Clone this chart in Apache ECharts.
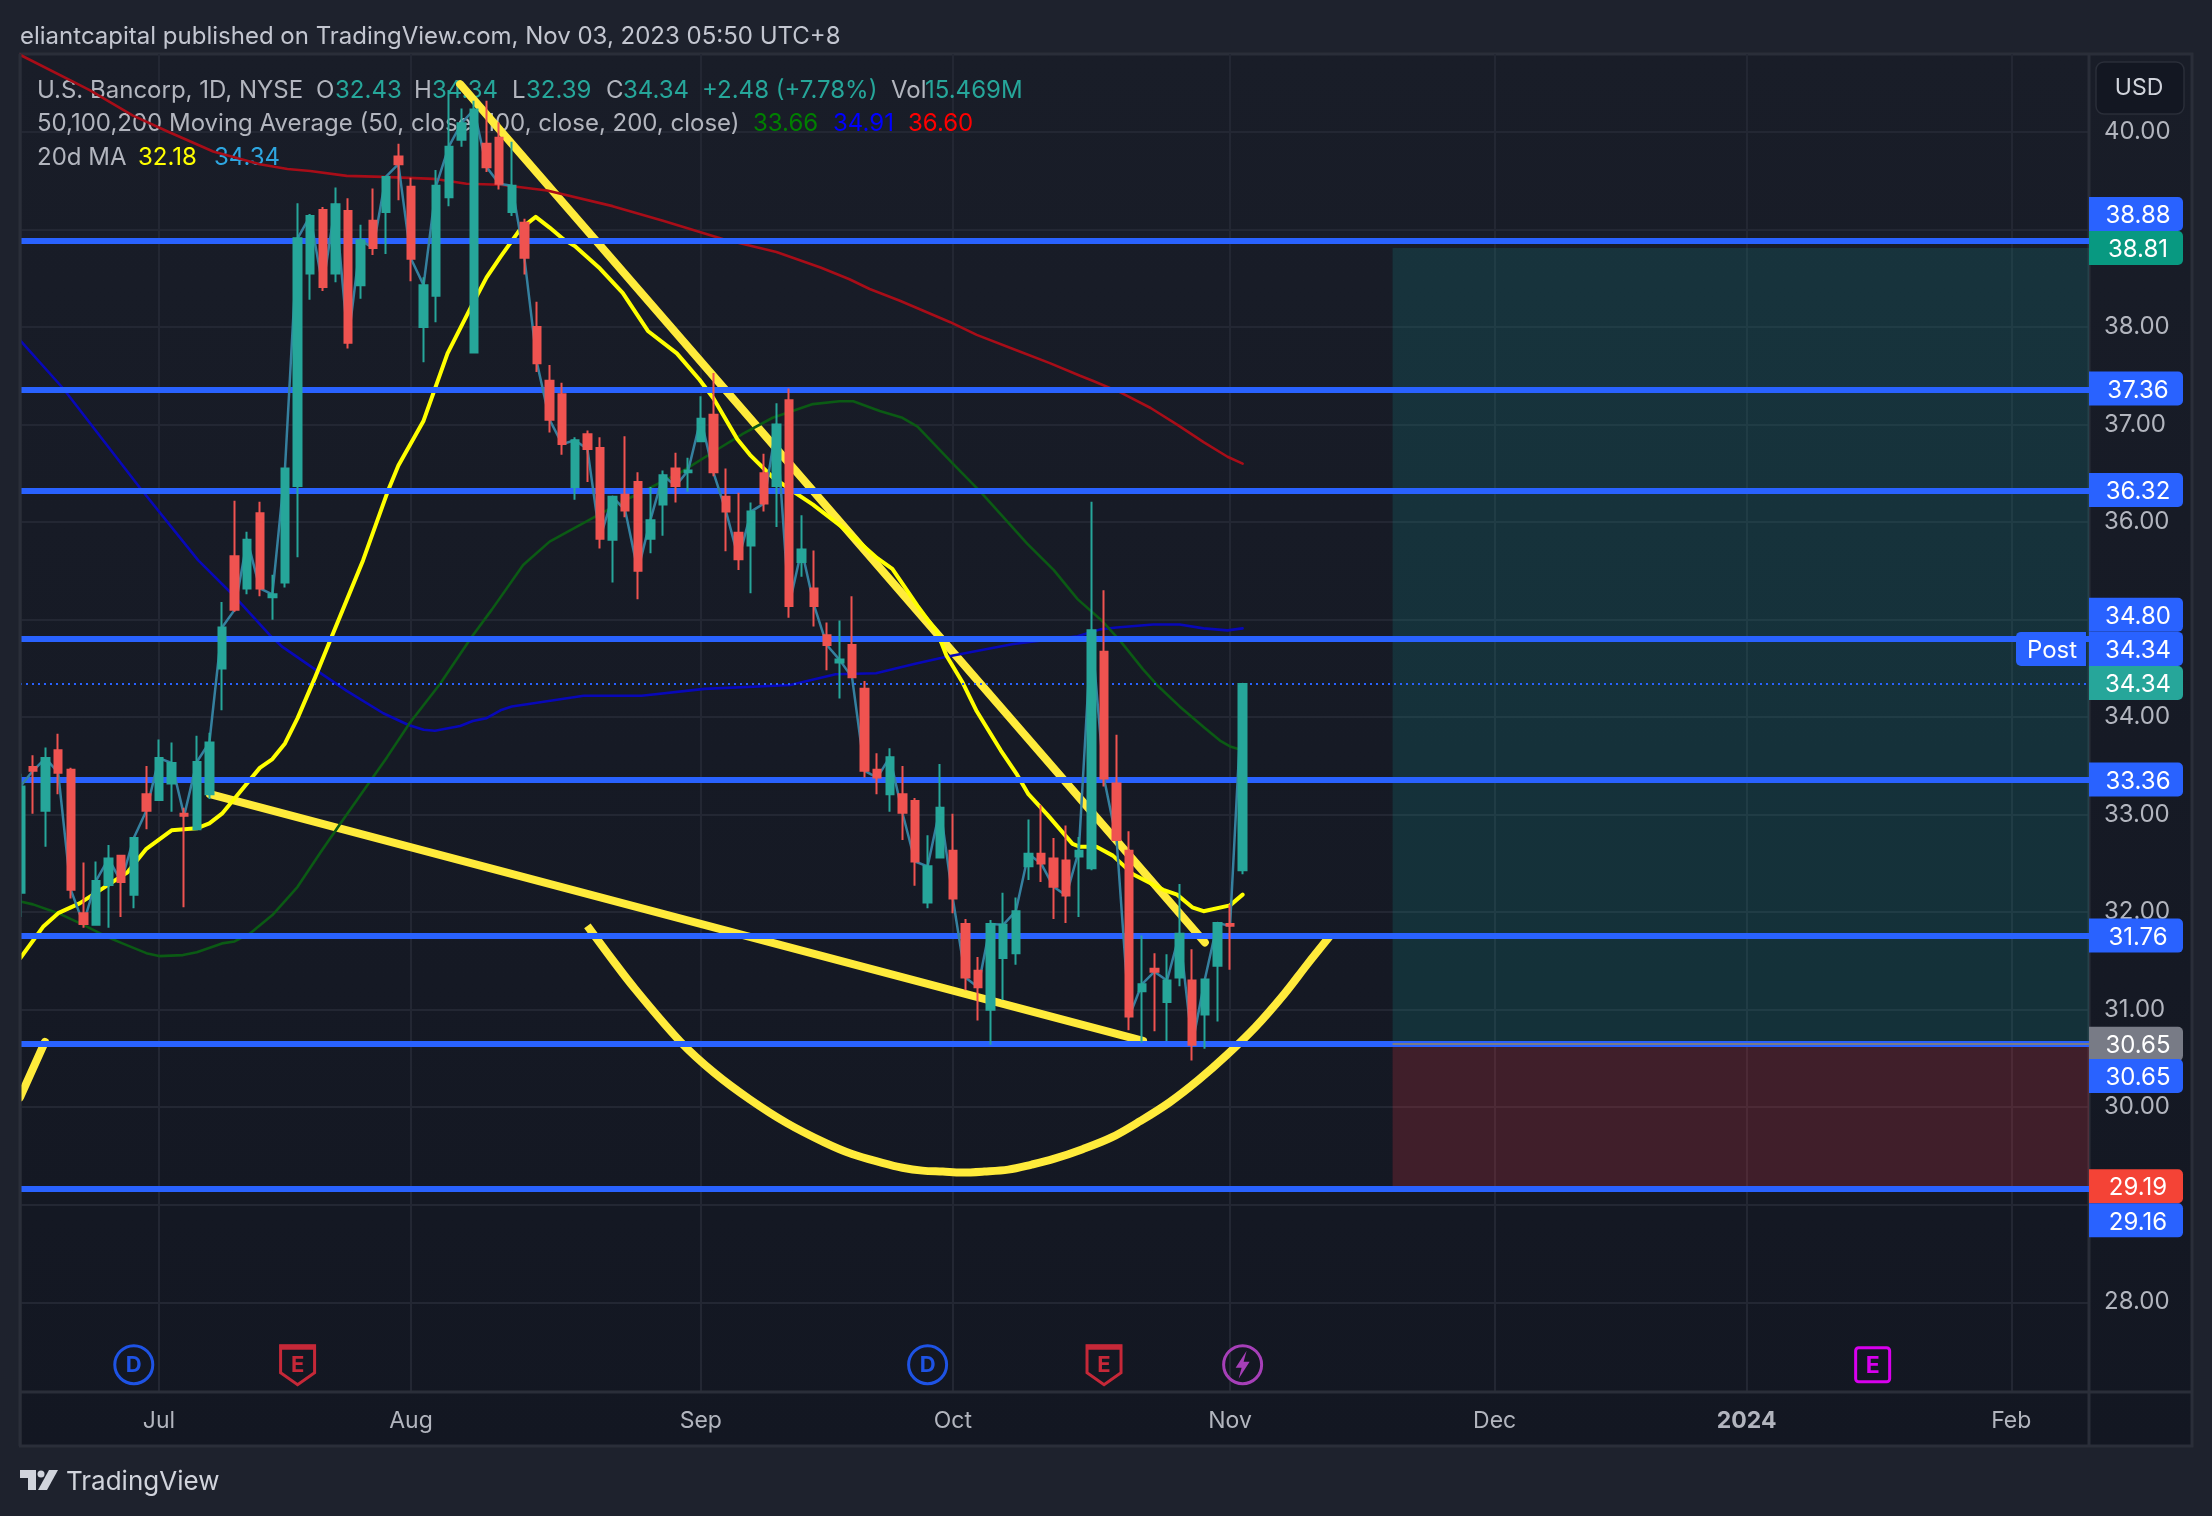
<!DOCTYPE html>
<html>
<head>
<meta charset="utf-8">
<title>USB 1D</title>
<style>html,body{margin:0;padding:0;background:#1e222d}#chart{width:2212px;height:1516px}</style>
<script src="https://cdn.jsdelivr.net/npm/echarts@6/dist/echarts.min.js"></script>
</head>
<body>
<div id="chart"></div>
<script>
// bar 0 = Jul 3 2023, bars are trading days, first visible bar is -11
var firstBar = -11;
var opens = [32.20,33.49,33.04,33.66,33.46,31.99,31.87,32.28,32.58,32.18,33.21,33.15,33.32,33.01,32.85,33.21,34.50,35.65,35.32,36.09,35.23,35.38,36.37,38.55,39.20,38.55,39.19,38.43,39.09,39.18,39.75,39.44,38.00,38.32,39.33,39.92,37.74,39.88,39.94,39.18,39.07,38.00,37.45,37.31,36.36,36.90,36.76,35.82,36.28,36.41,35.83,36.18,36.55,36.51,36.83,37.10,36.26,35.89,35.76,36.50,36.37,37.25,35.59,35.32,34.84,34.56,34.74,34.29,33.46,33.21,33.21,33.14,32.10,32.56,32.63,31.88,31.40,31.00,31.53,31.58,32.47,32.60,32.55,32.53,32.57,32.45,34.67,33.32,32.63,31.19,31.42,31.08,31.33,31.30,30.95,31.45,31.88,32.43];
var closes = [33.29,33.45,33.58,33.43,32.23,31.88,32.32,32.55,32.31,32.76,33.04,33.58,33.53,32.99,33.54,33.74,34.92,35.10,35.82,35.32,35.26,36.55,38.91,39.14,38.41,39.26,37.84,38.89,38.81,39.54,39.67,38.70,38.43,39.45,39.85,40.09,40.23,39.64,39.47,39.45,38.71,37.63,37.05,36.80,36.84,36.75,35.83,36.26,36.12,35.50,36.02,36.48,36.37,36.53,37.06,36.51,36.11,35.62,36.11,36.19,37.00,35.14,35.72,35.14,34.74,34.59,34.41,33.45,33.38,33.59,33.02,32.52,32.47,33.07,32.14,31.33,31.23,31.88,31.87,32.01,32.60,32.50,32.26,32.17,32.63,34.89,33.37,32.74,30.93,31.26,31.39,31.30,31.78,30.64,31.31,31.89,31.86,34.34];
var lows = [31.95,33.01,32.67,33.21,32.14,31.84,31.87,31.84,31.95,32.04,32.85,33.14,33.03,32.05,32.84,33.16,34.07,35.08,35.26,35.24,35.00,35.33,35.64,38.28,38.37,38.46,37.78,38.29,38.74,38.75,39.30,38.47,37.64,38.05,39.24,39.85,37.74,39.59,39.41,39.14,38.54,37.54,36.92,36.69,36.23,36.41,35.73,35.38,36.05,35.21,35.68,35.86,36.20,36.31,36.82,36.47,35.70,35.51,35.27,36.11,35.95,35.02,35.44,34.93,34.48,34.19,34.41,33.38,33.21,33.03,32.74,32.27,32.04,32.55,31.99,31.20,30.89,30.64,31.10,31.46,32.33,32.31,31.93,31.89,31.95,32.43,33.29,32.74,30.79,30.66,30.78,30.68,31.24,30.48,30.60,30.88,31.41,32.39];
var highs = [33.42,33.61,33.69,33.83,33.48,32.51,32.52,32.69,32.58,32.76,33.50,33.77,33.74,33.07,33.81,33.84,35.18,36.22,35.90,36.21,35.46,36.55,39.27,39.16,39.23,39.43,39.32,39.05,39.42,39.54,39.88,39.53,38.51,39.61,40.43,40.24,40.32,40.32,40.10,39.90,39.11,38.26,37.61,37.43,36.87,36.94,36.87,36.26,36.88,36.51,36.36,36.53,36.71,36.66,37.29,37.53,36.55,36.30,36.20,36.70,37.22,37.37,36.07,35.71,34.97,34.99,35.24,34.37,33.63,33.68,33.50,33.17,32.79,33.52,33.01,31.93,31.54,31.92,32.20,32.15,32.95,33.10,32.76,32.89,32.77,36.21,35.30,33.82,32.83,31.76,31.58,31.57,32.29,31.62,31.31,31.90,32.08,34.34];

// moving averages as [bar, price]
var ma200 = [[-11,40.79],[-5.5,40.43],[-2.1,40.17],[0.6,40.01],[4.3,39.80],[8,39.67],[10.2,39.62],[12,39.60],[14.9,39.55],[17.8,39.54],[21.8,39.52],[24.4,39.47],[27.1,39.46],[30.8,39.40],[36,39.24],[40,39.09],[44.8,38.90],[49,38.77],[52.5,38.61],[54.8,38.49],[56.4,38.39],[58.8,38.27],[62.8,38.05],[64.9,37.92],[68.1,37.76],[70.7,37.63],[73.1,37.50],[74.1,37.45],[76.3,37.33],[78.7,37.17],[80.8,37.00],[82.9,36.82],[84.8,36.67],[86,36.60]];
var ma100 = [[-11,37.86],[-7.6,37.37],[-1.5,36.35],[3.1,35.61],[5.9,35.25],[8.8,34.84],[9.8,34.72],[12.5,34.48],[14.9,34.27],[17.8,34.04],[19.8,33.92],[21,33.87],[21.9,33.86],[23.9,33.91],[24.9,33.96],[26,33.99],[27.1,34.07],[28,34.11],[29.6,34.14],[33.7,34.22],[38.3,34.22],[43.3,34.29],[50.1,34.33],[53.7,34.44],[56.9,34.45],[60.1,34.55],[62.5,34.62],[67.8,34.75],[72.9,34.83],[74.7,34.90],[76,34.92],[78.9,34.95],[81,34.95],[82.9,34.91],[84.8,34.89],[86,34.91]];
var ma50 = [[-11,32.11],[-10,32.08],[-8,31.99],[-6,31.87],[-4,31.74],[-2.9,31.68],[-1,31.58],[0,31.55],[1.9,31.56],[3,31.59],[5,31.68],[6,31.70],[7.2,31.78],[9,31.97],[11,32.26],[12.8,32.61],[14.4,32.91],[16.8,33.35],[18.1,33.59],[19.9,33.94],[22.3,34.34],[24.8,34.82],[26.4,35.10],[28.9,35.56],[31,35.80],[34.4,36.04],[37.4,36.25],[41.4,36.51],[44.5,36.76],[46.4,36.91],[48.7,37.07],[51.9,37.21],[54,37.24],[55.1,37.24],[57.2,37.14],[59,37.07],[60.2,36.98],[63,36.60],[65.2,36.31],[68.9,35.78],[71,35.51],[72.9,35.21],[74.9,34.98],[76.3,34.78],[78.1,34.49],[79.2,34.33],[81,34.11],[82.9,33.90],[84.2,33.76],[85,33.70],[86,33.66]];
var ma20 = [[-11,31.53],[-9.2,31.85],[-8,31.99],[-6.3,32.09],[-4.4,32.25],[-2.5,32.41],[-1,32.65],[1,32.84],[3,32.86],[4,32.91],[5,33.01],[5.9,33.15],[8,33.48],[9,33.57],[10,33.73],[11,33.99],[12.4,34.41],[13.6,34.79],[14.9,35.20],[16.2,35.61],[18.2,36.33],[19,36.58],[21,37.04],[22.9,37.73],[24.7,38.19],[26,38.51],[27.1,38.72],[28.7,39.01],[29.9,39.13],[31,39.02],[32.1,38.90],[33,38.83],[35,38.60],[36.8,38.35],[38.8,37.96],[41.1,37.73],[42.9,37.46],[44,37.27],[45.9,36.85],[46.9,36.69],[48.7,36.46],[50.5,36.30],[51.9,36.18],[54.3,35.94],[57,35.63],[58.2,35.52],[59,35.37],[60.2,35.14],[61.8,34.86],[62.5,34.63],[63.8,34.35],[64.9,34.06],[66.8,33.66],[68.1,33.41],[69,33.21],[70.5,33.00],[72.5,32.70],[73.1,32.67],[74.4,32.67],[75.7,32.58],[77.3,32.39],[79.7,32.23],[80.8,32.18],[82,32.05],[82.9,32.01],[85,32.07],[86,32.18]];

// hand drawn lines
var wedgeTop = [[23.9,40.49],[83,31.69]];
var wedgeBottom = [[4.05,33.21],[78.1,30.68]];
var leftStub = [[-11.03,30.10],[-9.05,30.67]];
var cup = [[34,31.86],[36,31.51],[37.8,31.21],[41.4,30.67],[44.1,30.35],[46.9,30.08],[49.8,29.84],[52.8,29.64],[55,29.52],[57.4,29.43],[59,29.38],[60.6,29.35],[62.2,29.34],[63.7,29.33],[65.5,29.34],[67.4,29.36],[69.2,29.41],[71,29.47],[73.3,29.57],[75.6,29.69],[77.9,29.86],[80.2,30.05],[82.5,30.28],[84.7,30.53],[87,30.82],[89.3,31.16],[91.1,31.46],[92.9,31.75]];
var levels = [38.88,37.36,36.32,34.80,33.36,31.76,30.65,29.16];
var lastPrice = 34.34;
var positionStart = 97.9;
var targetPrice = 38.81, entryPrice = 30.65, stopPrice = 29.19;

var monthBars = [0,20,43,63,85,106,126,147];
var monthNames = ['Jul','Aug','Sep','Oct','Nov','Dec','2024','Feb'];
var gridPrices = [28,29,30,31,32,33,34,35,36,37,38,39,40];
var labelPrices = [28,30,31,32,33,34,36,37,38,40];

// price tags on the right; tagSlots is where the tag sits after TradingView pushes overlaps apart
var tagTexts = ['38.88','38.81','37.36','36.32','34.80','34.34','34.34','33.36','31.76','30.65','30.65','29.19','29.16'];
var tagSlots = [39.16,38.81,37.37,36.33,35.05,34.70,34.35,33.36,31.76,30.65,30.32,29.19,28.84];
var tagKinds = ['line','target','line','line','line','line','last','line','line','entry','line','stop','line'];
var tagColors = {line:'#2962ff',target:'#089981',last:'#26a69a',entry:'#787b86',stop:'#f44336'};

var eventBars = [-2,11,61,75,86,136];
var eventKinds = ['D','E','D','E','F','N'];
var eventPrice = 27.36;

var xMin = -11.03, xMax = 153.17;
var uiFont = 'Inter, "Liberation Sans", sans-serif';
var textGrey = '#b2b5be', teal = '#26a69a';

var candles = opens.map(function (o, i) {
  return [i + firstBar, o, closes[i], lows[i], highs[i]];
});
var closeLine = closes.map(function (c, i) { return [i + firstBar, c]; });

function overlayLine(name, data, color, width, z, extra) {
  return Object.assign({
    name: name, type: 'line', data: data, symbol: 'none', z: z, silent: true, animation: false,
    lineStyle: { color: color, width: width, cap: 'round', join: 'round' }
  }, extra || {});
}

function renderTag(params, api) {
  var cs = params.coordSys;
  var y = api.coord([0, api.value(0)])[1];
  var x = cs.x + cs.width;
  var kind = tagKinds[params.dataIndex];
  var kids = [
    { type: 'rect', shape: { x: x, y: y - 17, width: 94, height: 34, r: [0, 5, 5, 0] }, style: { fill: tagColors[kind] } },
    { type: 'text', style: { text: tagTexts[params.dataIndex], x: x + 49, y: y + 2, fill: '#fff', font: '24px ' + uiFont, align: 'center', verticalAlign: 'middle' } }
  ];
  if (params.dataIndex === 5) {
    kids.push({ type: 'rect', shape: { x: x - 73, y: y - 17, width: 70, height: 34, r: [5, 0, 0, 5] }, style: { fill: '#2962ff' } });
    kids.push({ type: 'text', style: { text: 'Post', x: x - 37, y: y + 2, fill: '#fff', font: '24px ' + uiFont, align: 'center', verticalAlign: 'middle' } });
  }
  return { type: 'group', children: kids };
}

function renderEvent(params, api) {
  var p = api.coord([api.value(0), eventPrice]);
  var x = p[0], y = p[1];
  var kind = eventKinds[params.dataIndex];
  var label = function (t, color, size) {
    return { type: 'text', style: { text: t, x: x, y: y + 1, fill: color, font: 'bold ' + size + 'px ' + uiFont, align: 'center', verticalAlign: 'middle' } };
  };
  if (kind === 'D') {
    return { type: 'group', children: [
      { type: 'circle', shape: { cx: x, cy: y, r: 19 }, style: { fill: 'none', stroke: '#1e53e5', lineWidth: 3 } },
      label('D', '#1e53e5', 22)
    ] };
  }
  if (kind === 'E') {
    return { type: 'group', children: [
      { type: 'polygon', shape: { points: [[x - 17, y - 19], [x + 17, y - 19], [x + 17, y + 8], [x, y + 20], [x - 17, y + 8]] }, style: { fill: 'none', stroke: '#c62838', lineWidth: 3 } },
      { type: 'rect', shape: { x: x - 18, y: y - 20, width: 36, height: 5 }, style: { fill: '#c62838' } },
      label('E', '#c62838', 22)
    ] };
  }
  if (kind === 'N') {
    return { type: 'group', children: [
      { type: 'rect', shape: { x: x - 17, y: y - 17, width: 34, height: 34, r: 3 }, style: { fill: 'none', stroke: '#d900ee', lineWidth: 3 } },
      label('E', '#d900ee', 23)
    ] };
  }
  return { type: 'group', children: [
    { type: 'circle', shape: { cx: x, cy: y, r: 19 }, style: { fill: 'none', stroke: '#a63fb8', lineWidth: 3 } },
    { type: 'polygon', shape: { points: [[x + 4, y - 14], [x - 7, y + 3], [x - 1, y + 3], [x - 4, y + 14], [x + 7, y - 3], [x + 1, y - 3]] }, style: { fill: '#a63fb8' } }
  ] };
}

function textEl(str, x, y, color, size) {
  return { type: 'text', z: 1, silent: true, style: { text: str, x: x, y: y, fill: color, font: (size || 24) + 'px ' + uiFont, verticalAlign: 'middle' } };
}

var graphics = [
  // panel background and border
  { type: 'rect', z: -1, silent: true, shape: { x: 20, y: 54, width: 2172, height: 1392 },
    style: { stroke: '#2a2e39', lineWidth: 3, fill: new echarts.graphic.LinearGradient(0, 0, 0, 1, [{ offset: 0, color: '#191d28' }, { offset: 1, color: '#131722' }]) } },
  // page coloured strip so nothing pokes out left of the plot
  { type: 'rect', z: 20, silent: true, shape: { x: 0, y: 50, width: 19, height: 1400 }, style: { fill: '#1e222d' } },
  { type: 'line', z: 20, silent: true, shape: { x1: 20, y1: 54, x2: 20, y2: 1446 }, style: { stroke: '#2a2e39', lineWidth: 3 } },
  textEl('eliantcapital published on TradingView.com, Nov 03, 2023 05:50 UTC+8', 20, 37, '#c3c6d0'),
  textEl('U.S. Bancorp, 1D, NYSE', 37, 91, textGrey),
  textEl('O', 316, 91, textGrey), textEl('32.43', 335, 91, teal),
  textEl('H', 414, 91, textGrey), textEl('34.34', 432, 91, teal),
  textEl('L', 512, 91, textGrey), textEl('32.39', 526, 91, teal),
  textEl('C', 606, 91, textGrey), textEl('34.34', 623, 91, teal),
  textEl('+2.48 (+7.78%)', 702, 91, teal),
  textEl('Vol', 891, 91, textGrey), textEl('15.469M', 925, 91, teal),
  textEl('50,100,200 Moving Average (50, close, 100, close, 200, close)', 37, 124, textGrey),
  textEl('33.66', 753, 124, '#008000'), textEl('34.91', 833, 124, '#0000ff'), textEl('36.60', 908, 124, '#ff0000'),
  textEl('20d MA', 37, 158, textGrey),
  textEl('32.18', 138, 158, '#ffff00'), textEl('34.34', 214, 158, '#2ea6e0'),
  // separators that run on below the plot
  { type: 'line', z: 1, silent: true, shape: { x1: 2089, y1: 54, x2: 2089, y2: 1446 }, style: { stroke: '#2a2e39', lineWidth: 3 } },
  { type: 'line', z: 1, silent: true, shape: { x1: 20, y1: 1392, x2: 2192, y2: 1392 }, style: { stroke: '#2a2e39', lineWidth: 3 } },
  // currency button
  { type: 'rect', z: 9, silent: true, shape: { x: 2096, y: 62, width: 88, height: 52, r: 8 }, style: { fill: '#131722', stroke: '#2a2e39', lineWidth: 1.5 } },
  { type: 'text', z: 10, silent: true, style: { text: 'USD', x: 2139, y: 88, fill: '#d1d4dc', font: '23px ' + uiFont, align: 'center', verticalAlign: 'middle' } },
  // footer logo
  { type: 'polygon', silent: true, shape: { points: [[20, 1470], [36, 1470], [36, 1490], [28, 1490], [28, 1478], [20, 1478]] }, style: { fill: '#d1d4dc' } },
  { type: 'circle', silent: true, shape: { cx: 41, cy: 1474, r: 3.5 }, style: { fill: '#d1d4dc' } },
  { type: 'polygon', silent: true, shape: { points: [[49, 1470], [58, 1470], [47, 1490], [38, 1490]] }, style: { fill: '#d1d4dc' } },
  textEl('TradingView', 66, 1482, '#d1d4dc', 26)
];

var chart = echarts.init(document.getElementById('chart'), null, { width: 2212, height: 1516, renderer: 'canvas' });

chart.setOption({
  backgroundColor: '#1e222d',
  animation: false,
  graphic: graphics,
  grid: { left: 20, top: 54, width: 2069, height: 1338 },
  xAxis: {
    type: 'value', min: xMin, max: xMax,
    axisLine: { show: false },
    axisTick: { show: false, customValues: monthBars },
    splitLine: { show: true, lineStyle: { color: '#232733', width: 2 } },
    axisLabel: {
      customValues: monthBars, margin: 18, color: textGrey, fontFamily: uiFont, fontSize: 23,
      formatter: function (v) {
        var n = monthNames[monthBars.indexOf(v)];
        return n === '2024' ? '{b|2024}' : n;
      },
      rich: { b: { fontWeight: 'bold', color: textGrey, fontFamily: uiFont, fontSize: 23 } }
    }
  },
  yAxis: {
    type: 'value', position: 'right', min: 27.08, max: 40.8,
    axisLine: { show: false },
    axisTick: { show: false, customValues: gridPrices },
    splitLine: { show: true, lineStyle: { color: '#232733', width: 2 } },
    axisLabel: {
      customValues: labelPrices, margin: 15, color: textGrey, fontFamily: uiFont, fontSize: 24, lineHeight: 26, padding: [3, 0, 0, 0],
      formatter: function (v) { return v.toFixed(2); }
    }
  },
  series: [
    overlayLine('levels', [], '#2962ff', 6, 2, {
      markLine: {
        silent: true, symbol: 'none', animation: false, label: { show: false },
        lineStyle: { color: '#2962ff', width: 6, type: 'solid' },
        data: levels.map(function (v) { return { yAxis: v }; }).concat([
          { yAxis: lastPrice, lineStyle: { color: '#2962ff', width: 2, type: [2, 4] } }
        ])
      }
    }),
    overlayLine('position', [], '#787b86', 2, 3, {
      markArea: {
        silent: true, animation: false, label: { show: false },
        data: [
          [{ coord: [positionStart, targetPrice], itemStyle: { color: 'rgba(18,147,143,0.2)' } }, { coord: [xMax, entryPrice] }],
          [{ coord: [positionStart, entryPrice], itemStyle: { color: 'rgba(242,54,69,0.2)' } }, { coord: [xMax, stopPrice] }]
        ]
      },
      markLine: {
        silent: true, symbol: 'none', animation: false, label: { show: false },
        lineStyle: { color: '#787b86', width: 2, type: 'solid' },
        data: [[{ coord: [positionStart, entryPrice] }, { coord: [xMax, entryPrice] }]]
      }
    }),
    overlayLine('wedge top', wedgeTop, '#ffeb3b', 8, 3),
    overlayLine('wedge bottom', wedgeBottom, '#ffeb3b', 8, 3),
    overlayLine('left stub', leftStub, '#ffeb3b', 8, 3),
    overlayLine('cup', cup, '#ffeb3b', 8, 3, { smooth: 0.35, lineStyle: { color: '#ffeb3b', width: 8, cap: 'butt', join: 'round' } }),
    overlayLine('MA200', ma200, '#a80d18', 2.6, 4),
    overlayLine('MA100', ma100, '#0808b8', 2.6, 4),
    overlayLine('MA50', ma50, '#0b5a14', 2.6, 4),
    overlayLine('20d MA', ma20, '#ffff00', 4, 4),
    overlayLine('close', closeLine, '#35809f', 2.5, 5),
    {
      name: 'USB', type: 'candlestick', data: candles, z: 6, silent: true, barWidth: 8, animation: false, clip: true,
      encode: { x: 0, y: [1, 2, 3, 4] },
      itemStyle: { color: teal, color0: '#ef5350', borderColor: teal, borderColor0: '#ef5350', borderWidth: 2 }
    },
    {
      name: 'events', type: 'custom', data: eventBars, z: 7, silent: true, clip: false, animation: false,
      encode: { x: 0 }, renderItem: renderEvent
    },
    {
      name: 'tags', type: 'custom', data: tagSlots.map(function (v) { return [v]; }), z: 8, silent: true, clip: false, animation: false,
      encode: { y: 0 }, renderItem: renderTag
    }
  ]
});
</script>
</body>
</html>
